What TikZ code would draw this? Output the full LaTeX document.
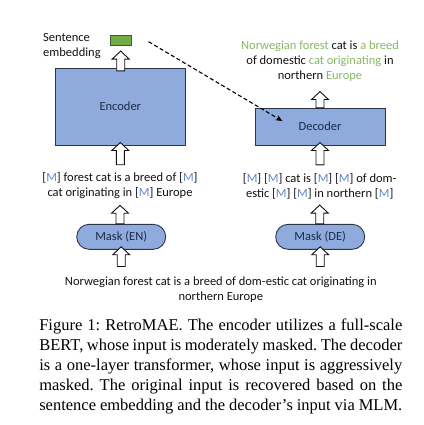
\documentclass[tikz,border=0pt]{standalone}
\usepackage{fontspec}
\setmainfont{Carlito}
\newfontfamily\captionserif{Liberation Serif}
\usetikzlibrary{arrows.meta, positioning, shapes.misc, calc}
\definecolor{rmblue}{HTML}{8FAADC}
\definecolor{rmedge}{HTML}{2B3548}
\definecolor{rmnavy}{HTML}{1C2B4A}
\definecolor{rmgreen}{HTML}{70AD47}
\definecolor{rmgreenedge}{HTML}{3E5F28}
\definecolor{rmtextgreen}{RGB}{136,184,102}
\definecolor{rmmasked}{RGB}{98,134,200}
\definecolor{rmink}{HTML}{111111}
\newcommand{\Mtok}{[\textcolor{rmmasked}{M}]}
\newcommand{\Gtok}[1]{\textcolor{rmtextgreen}{#1}}
\newcommand{\hollowup}[2]{
    \draw[rm_hollow] let \p1=#1, \p2=#2 in
        (\x2-4pt,\y1) -- (\x2-4pt,\y2-8pt) -- (\x2-8.5pt,\y2-8pt) -- (\x2,\y2)
        -- (\x2+8.5pt,\y2-8pt) -- (\x2+4pt,\y2-8pt) -- (\x2+4pt,\y1) -- cycle;
}
\tikzset{
    >=Latex,
    x=1pt, y=1pt,
    font=\fontsize{12.5}{15}\selectfont,
    text=rmink,
    rm_block/.style={
        rectangle,
        draw=rmedge,
        fill=rmblue,
        line width=0.9pt,
        text=rmnavy,
        minimum width=130pt,
        inner sep=0pt
    },
    rm_mask/.style={
        rounded rectangle,
        draw=rmedge,
        fill=rmblue,
        line width=0.9pt,
        text=rmnavy,
        minimum width=89pt,
        minimum height=25pt,
        inner sep=0pt
    },
    rm_embed/.style={
        rectangle,
        draw=rmgreenedge,
        fill=rmgreen,
        line width=0.8pt,
        minimum width=21pt,
        minimum height=10pt,
        inner sep=0pt
    },
    rm_text/.style={
        align=center,
        inner sep=0pt
    },
    rm_hollow/.style={
        draw=rmink,
        fill=white,
        line width=0.9pt,
        line join=miter
    },
    rm_dashed_arrow/.style={
        -{Stealth[length=7pt, width=5.5pt]},
        line width=1.1pt,
        dash pattern=on 4pt off 2.5pt
    },
    rm_caption/.style={
        text width=363pt,
        align=justify,
        inner sep=0pt,
        text=black,
        font=\captionserif\fontsize{16.5}{20}\selectfont\frenchspacing
    }
}

\begin{document}
\begin{tikzpicture}
\useasboundingbox (0,0) rectangle (423,-425);

% --- Encoder side ---
\node[rm_block, minimum height=76.7pt] (Encoder) at (120.3,-106.7) {Encoder};
\node[rm_embed] (SentEmb) at (120.7,-40.7) {};
\node[rm_text, align=left, anchor=west] (EmbLabel) at (43,-46.5) {Sentence\\embedding};
\node[rm_text] (EncInput) at (120,-186) {\Mtok{} forest cat is a breed of \Mtok\\cat originating in \Mtok{} Europe};
\node[rm_mask] (MaskEN) at (121.2,-236.8) {Mask (EN)};

% --- Decoder side ---
\node[rm_block, minimum height=36.7pt] (Decoder) at (320,-126.7) {Decoder};
\node[rm_text] (Target) at (320,-61) {\Gtok{Norwegian forest} cat is \Gtok{a breed}\\of domestic \Gtok{cat originating} in\\northern \Gtok{Europe}};
\node[rm_text] (DecInput) at (319.7,-186) {\Mtok{} \Mtok{} cat is \Mtok{} \Mtok{} of dom-\\estic \Mtok{} \Mtok{} in northern \Mtok};
\node[rm_mask] (MaskDE) at (320.2,-236.8) {Mask (DE)};

% --- Original input and caption ---
\node[rm_text] (Input) at (220.8,-289.5) {Norwegian forest cat is a breed of dom-estic cat originating in\\northern Europe};
\node[rm_caption] (Caption) at (220.8,-366.7) {\parfillskip=0pt Figure 1: RetroMAE. The encoder utilizes a full-scale\linebreak BERT, whose input is moderately masked. The decoder\linebreak is a one-layer transformer, whose input is aggressively\linebreak masked. The original input is recovered based on the\linebreak sentence embedding and the decoder’s input via MLM.};

% --- Edges ---
\hollowup{($(Encoder.north)+(0,-3)$)}{($(SentEmb.south)+(0,-5)$)}
\hollowup{(Decoder.north)}{($(Target.south)+(0,-10)$)}
\hollowup{($(EncInput.north)+(0,8)$)}{($(Encoder.south)+(0,3)$)}
\hollowup{($(DecInput.north)+(0,8)$)}{($(Decoder.south)+(0,3)$)}
\hollowup{(MaskEN.north)}{($(EncInput.south)+(0,-6)$)}
\hollowup{(MaskDE.north)}{($(DecInput.south)+(0,-6)$)}
\hollowup{($(Input.north)+(0,10)$)}{($(MaskEN.south)+(0,3)$)}
\hollowup{($(Input.north)+(0,10)$)}{($(MaskDE.south)+(0,3)$)}
\draw[rm_dashed_arrow] ($(SentEmb.east)+(17,-1)$) -- ($(Decoder.west)+(28,5.5)$);

\end{tikzpicture}
\end{document}
